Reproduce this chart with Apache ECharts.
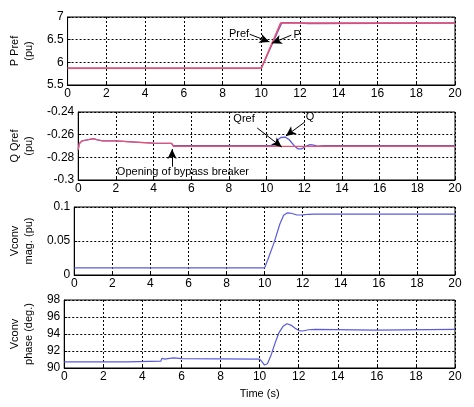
<!DOCTYPE html>
<html>
<head>
<meta charset="utf-8">
<script src="https://cdn.jsdelivr.net/npm/echarts@6/dist/echarts.min.js"></script>
<style>
  html, body { margin: 0; padding: 0; background: #fff; }
  #chart { width: 474px; height: 407px; }
</style>
</head>
<body>
<div id="chart"></div>
<script>
// x axis ticks (time, s)
const xTicks = [0, 20, 2];

// P / Pref (pu)
const prefT = [0, 10, 11, 20];
const prefV = [5.87, 5.87, 6.87, 6.87];
const pT = [0, 10, 10.05, 11.05, 11.2, 11.9, 11.95, 12.4, 12.45, 20];
const pV = [5.87, 5.87, 5.885, 6.87, 6.875, 6.875, 6.858, 6.858, 6.87, 6.87];

// Q / Qref (pu)
const qrefT = [0, 0.05, 0.2, 0.5, 0.8, 1.0, 1.3, 2, 3, 4, 4.95, 5.05, 20];
const qrefV = [-0.2735, -0.268, -0.2655, -0.2645, -0.2635, -0.2645, -0.2655, -0.2655, -0.2665, -0.2675, -0.2677, -0.2703, -0.2703];
const qT = [0, 0.05, 0.2, 0.5, 0.8, 1.0, 1.3, 2, 3, 4, 4.95, 5.05, 10.3, 10.45, 10.6, 10.75, 11.0, 11.2, 11.45, 11.65, 11.85, 12.05, 12.3, 12.5, 12.7, 13, 20];
const qV = [-0.2735, -0.268, -0.2655, -0.2645, -0.2635, -0.2645, -0.2655, -0.2655, -0.2665, -0.2675, -0.2677, -0.2697, -0.2697, -0.268, -0.2645, -0.2625, -0.2622, -0.2645, -0.2695, -0.2725, -0.2725, -0.2705, -0.2688, -0.2692, -0.2702, -0.2697, -0.2697];

// Vconv magnitude (pu)
const magT = [0, 10, 10.2, 10.5, 10.8, 11.0, 11.2, 11.4, 11.7, 12.0, 12.3, 12.6, 20];
const magV = [0.0105, 0.0105, 0.025, 0.048, 0.075, 0.088, 0.0915, 0.0908, 0.0882, 0.0885, 0.0893, 0.0895, 0.0895];

// Vconv phase (deg.)
const phT = [0, 3.2, 3.25, 4.95, 5.0, 5.15, 5.3, 5.6, 6.0, 6.05, 10.0, 10.1, 10.25, 10.4, 10.6, 10.8, 11.0, 11.2, 11.4, 11.6, 11.8, 12.0, 12.2, 12.5, 12.85, 12.9, 15.9, 16.0, 20];
const phV = [90.72, 90.72, 90.8, 90.82, 91.15, 91.05, 91.1, 91.18, 91.1, 91.05, 91.05, 90.8, 90.35, 90.5, 91.6, 93.0, 94.2, 94.9, 95.2, 95.05, 94.7, 94.4, 94.35, 94.5, 94.55, 94.45, 94.45, 94.55, 94.55];

const RED = '#f0506a';
const BLUE = '#5a5ae0';
const FONT = 'Liberation Sans';

function zip(t, v) {
  return t.map((x, i) => [x, v[i]]);
}

// arrow + text annotation, all in data coordinates
function arrow(from, to) {
  return [{ coord: from }, { coord: to }];
}
function note(text, at, align) {
  return {
    coord: at,
    symbolSize: 0,
    label: { show: true, formatter: text, position: 'inside', align: align || 'center', color: '#000', fontSize: 11, fontFamily: FONT }
  };
}

const tops = [17, 112, 207, 300];
const grids = tops.map(t => ({
  left: 59, right: 19, top: t, height: 68,
  show: true, borderColor: '#000', borderWidth: 1, backgroundColor: '#fff'
}));

function xAx(i) {
  return {
    type: 'value', gridIndex: i,
    min: xTicks[0], max: xTicks[1], interval: xTicks[2],
    axisLine: { lineStyle: { color: '#000' } },
    axisTick: { inside: true, length: 3, lineStyle: { color: '#000' } },
    axisLabel: { color: '#000', fontSize: 12, fontFamily: FONT, margin: 3 },
    splitLine: { show: true, lineStyle: { color: '#000', type: [2, 2], width: 1 } },
    name: i === 3 ? 'Time (s)' : '',
    nameLocation: 'middle', nameGap: 20,
    nameTextStyle: { color: '#000', fontSize: 11, fontFamily: FONT }
  };
}

function yAx(i, min, max, interval, name) {
  return {
    type: 'value', gridIndex: i, min: min, max: max, interval: interval,
    axisLine: { lineStyle: { color: '#000' } },
    axisTick: { inside: true, length: 3, lineStyle: { color: '#000' } },
    axisLabel: { color: '#000', fontSize: 12, fontFamily: FONT, margin: 4 },
    splitLine: { show: true, lineStyle: { color: '#000', type: [2, 2], width: 1 } },
    name: name, nameLocation: 'middle', nameRotate: 90, nameGap: 18,
    nameTextStyle: { color: '#000', fontSize: 11, fontFamily: FONT, lineHeight: 14 }
  };
}

const markLineStyle = {
  silent: true, symbol: ['none', 'arrow'], symbolSize: [7, 10],
  lineStyle: { color: '#000', type: 'solid', width: 1 },
  label: { show: false }
};

const chart = echarts.init(document.getElementById('chart'));
chart.setOption({
  animation: false,
  backgroundColor: '#fff',
  grid: grids,
  xAxis: [0, 1, 2, 3].map(xAx),
  yAxis: [
    yAx(0, 5.5, 7, 0.5, 'P Pref\n(pu)'),
    yAx(1, -0.3, -0.24, 0.02, 'Q Qref\n(pu)'),
    yAx(2, 0, 0.1, 0.05, 'Vconv\nmag. (pu)'),
    yAx(3, 90, 98, 2, 'Vconv\nphase (deg.)')
  ],
  series: [
    { type: 'line', xAxisIndex: 0, yAxisIndex: 0, data: zip(pT, pV), showSymbol: false, lineStyle: { color: BLUE, width: 1.5 } },
    {
      type: 'line', xAxisIndex: 0, yAxisIndex: 0, data: zip(prefT, prefV), showSymbol: false, lineStyle: { color: RED, width: 1.5 },
      markLine: Object.assign({ data: [arrow([9.4, 6.62], [10.42, 6.45]), arrow([11.55, 6.6], [10.55, 6.42])] }, markLineStyle),
      markPoint: { silent: true, data: [note('Pref', [8.85, 6.63]), note('P', [11.85, 6.6])] }
    },
    { type: 'line', xAxisIndex: 1, yAxisIndex: 1, data: zip(qT, qV), showSymbol: false, lineStyle: { color: BLUE, width: 1.3 } },
    {
      type: 'line', xAxisIndex: 1, yAxisIndex: 1, data: zip(qrefT, qrefV), showSymbol: false, lineStyle: { color: RED, width: 1.2 },
      markLine: Object.assign({ data: [
        arrow([9.5, -0.2541], [10.8, -0.2709]),
        arrow([12.03, -0.2488], [11.02, -0.2612]),
        arrow([4.98, -0.2882], [4.98, -0.2727])
      ] }, markLineStyle),
      markPoint: { silent: true, data: [
        note('Qref', [8.8, -0.2462]),
        note('Q', [12.3, -0.2444]),
        note('Opening of bypass breaker', [2.05, -0.293], 'left')
      ] }
    },
    { type: 'line', xAxisIndex: 2, yAxisIndex: 2, data: zip(magT, magV), showSymbol: false, lineStyle: { color: BLUE, width: 1.2 } },
    { type: 'line', xAxisIndex: 3, yAxisIndex: 3, data: zip(phT, phV), showSymbol: false, lineStyle: { color: BLUE, width: 1.2 } }
  ]
});
</script>
</body>
</html>
